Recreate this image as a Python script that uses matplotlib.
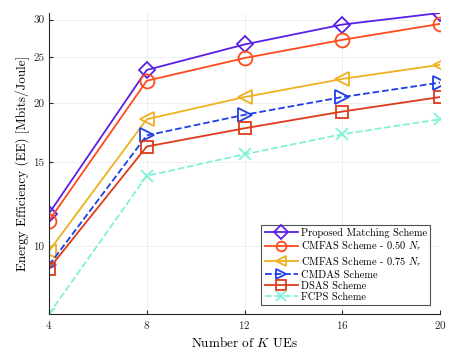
import numpy as np
import matplotlib
matplotlib.use("Agg")
import matplotlib.pyplot as plt
from matplotlib.ticker import FixedLocator, NullLocator, FixedFormatter

plt.rcParams['font.family'] = ['cmr10', 'DejaVu Serif']
plt.rcParams['mathtext.fontset'] = 'cm'
plt.rcParams['axes.formatter.use_mathtext'] = True

# Number of UEs
K = [4, 8, 12, 16, 20]

# Energy efficiency [Mbits/Joule]
proposed = [11.7, 23.5, 26.6, 29.3, 31.0]
cmfas_050 = [11.3, 22.3, 24.9, 27.2, 29.4]
cmfas_075 = [9.75, 18.5, 20.6, 22.5, 24.1]
cmdas = [9.1, 17.1, 18.9, 20.6, 22.1]
dsas = [8.95, 16.2, 17.7, 19.2, 20.6]
fcps = [7.18, 14.05, 15.6, 17.2, 18.5]

y_ticks = [10, 15, 20, 25, 30]

fig = plt.figure(figsize=(4.74, 3.55), dpi=100)
ax = fig.add_axes([0.1034, 0.1155, 0.8249, 0.848])

lw = 1.3
ax.plot(K, proposed, '-', color='#5a1fe6', marker='D', ms=8, mfc='none', mew=lw, lw=lw,
        label='Proposed Matching Scheme')
ax.plot(K, cmfas_050, '-', color='#ff4a1c', marker='o', ms=10, mfc='none', mew=lw, lw=lw,
        label=r'CMFAS Scheme - 0.50 $N_r$')
ax.plot(K, cmfas_075, '-', color='#edb120', marker='<', ms=10, mfc='none', mew=lw, lw=lw,
        label=r'CMFAS Scheme - 0.75 $N_r$')
ax.plot(K, cmdas, '--', color='#1f3fe6', marker='>', ms=10, mfc='none', mew=lw, lw=lw,
        label='CMDAS Scheme')
ax.plot(K, dsas, '-', color='#dd3a1a', marker='s', ms=8, mfc='none', mew=lw, lw=lw,
        label='DSAS Scheme')
ax.plot(K, fcps, '--', color='#7ff2d8', marker='x', ms=9, mfc='none', mew=lw, lw=lw,
        label='FCPS Scheme')

ax.set_yscale('log')
ax.set_xlim(4, 20)
ax.set_ylim(7.18, 31.0)
ax.set_xticks(K)
ax.yaxis.set_major_locator(FixedLocator(y_ticks))
ax.yaxis.set_major_formatter(FixedFormatter([str(t) for t in y_ticks]))
ax.yaxis.set_minor_locator(NullLocator())

ax.tick_params(direction='in', length=3, width=0.8, labelsize=8, colors='#262626')
ax.grid(True, color='#ececec', lw=0.6)
ax.spines['top'].set_visible(False)
ax.spines['right'].set_visible(False)
for s in ['left', 'bottom']:
    ax.spines[s].set_color('#262626')
    ax.spines[s].set_linewidth(0.8)

ax.set_xlabel(r'Number of $K$ UEs', fontsize=9.5)
ax.set_ylabel('Energy Efficiency (EE) [Mbits/Joule]', fontsize=9.5, labelpad=2)

leg = ax.legend(loc='lower right', bbox_to_anchor=(0.975, 0.03), fontsize=7.5,
                handlelength=3.2, frameon=True, fancybox=False, edgecolor='#262626',
                borderpad=0.3, labelspacing=0.15, handletextpad=0.3, borderaxespad=0)
leg.get_frame().set_linewidth(0.8)
for h in leg.legend_handles:
    h.set_markersize(7)

fig.savefig('out.png', dpi=100)
